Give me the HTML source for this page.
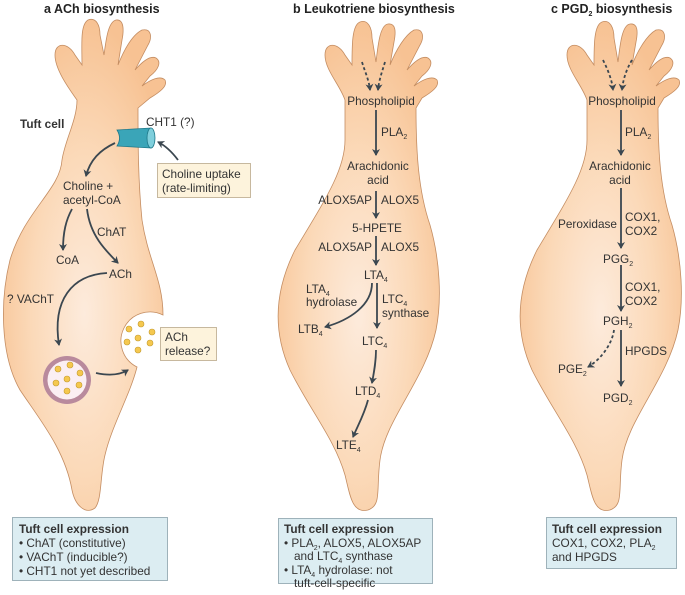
<!DOCTYPE html>
<html><head><meta charset="utf-8"><style>
html,body{margin:0;padding:0;background:#fff;}
svg{display:block;font-family:"Liberation Sans",sans-serif;}
text{font-size:11.8px;fill:#333;}
.t{font-weight:bold;font-size:12.5px;fill:#222;}
.s{font-size:7px;}
.m{text-anchor:middle;}
.e{text-anchor:end;}
</style></head><body>
<svg width="685" height="595" viewBox="0 0 685 595" xmlns="http://www.w3.org/2000/svg">
<defs>
<radialGradient id="g" cx="0.5" cy="0.6" r="0.6">
<stop offset="0" stop-color="#fdebdc"/><stop offset="0.55" stop-color="#fbd9b8"/><stop offset="1" stop-color="#f7c293"/>
</radialGradient>
<marker id="a" markerWidth="8" markerHeight="8" refX="6" refY="4" orient="auto" markerUnits="userSpaceOnUse">
<path d="M0,0 L7,4 L0,8 L2,4 Z" fill="#3b4750"/></marker>
</defs>
<!-- Cell a -->
<path fill="url(#g)" stroke="#c48d62" stroke-width="0.8" d="M 77,100 C 70,90 55,70 55,55 C 55,42 68,42 75,55 L 82,65 C 82,45 80,25 88,20 C 96,17 100,25 100,35 L 104,55 C 106,40 108,22 116,20 C 124,19 124,30 122,40 L 118,65 C 124,50 132,35 142,30 C 152,28 152,38 148,45 L 135,70 C 142,62 150,55 156,58 C 162,62 158,70 150,76 L 142,86 C 150,80 160,75 165,80 C 168,86 160,92 150,98 L 138,108 C 138,140 138,180 142,220 C 148,260 163,280 163,315 A 27 27 0 1 0 137,367 C 130,395 112,425 105,455 C 100,475 102,500 95,508 C 85,515 75,505 72,490 C 65,450 40,420 20,390 C 0,355 0,300 10,260 C 25,210 60,190 62,160 C 65,140 77,120 77,100 Z"/>
<!-- Cell b -->
<path fill="url(#g)" stroke="#c48d62" stroke-width="0.8" d="M 345,100 C 340,85 325,70 325,55 C 325,42 338,42 345,55 L 352,65 C 352,45 352,25 360,22 C 368,19 372,28 372,38 L 376,62 C 378,45 380,25 388,24 C 396,23 396,32 394,42 L 390,65 C 396,50 405,35 414,30 C 424,28 424,38 420,45 L 407,70 C 414,62 422,55 428,58 C 434,62 430,70 422,76 L 414,86 C 422,80 432,75 437,80 C 440,86 432,92 422,98 L 416,108 C 416,150 418,190 430,225 C 440,260 442,300 436,330 C 425,380 385,420 380,460 C 376,490 382,505 368,510 C 352,514 350,495 345,475 C 335,440 310,410 290,370 C 272,330 275,290 295,250 C 325,200 345,170 345,140 Z"/>
<!-- Cell c -->
<path transform="translate(242,0)" fill="url(#g)" stroke="#c48d62" stroke-width="0.8" d="M 345,100 C 340,85 325,70 325,55 C 325,42 338,42 345,55 L 352,65 C 352,45 352,25 360,22 C 368,19 372,28 372,38 L 376,62 C 378,45 380,25 388,24 C 396,23 396,32 394,42 L 390,65 C 396,50 405,35 414,30 C 424,28 424,38 420,45 L 407,70 C 414,62 422,55 428,58 C 434,62 430,70 422,76 L 414,86 C 422,80 432,75 437,80 C 440,86 432,92 422,98 L 416,108 C 416,150 418,190 430,225 C 440,260 442,300 436,330 C 425,380 385,420 380,460 C 376,490 382,505 368,510 C 352,514 350,495 345,475 C 335,440 310,410 290,370 C 272,330 275,290 295,250 C 325,200 345,170 345,140 Z"/>

<!-- Titles -->
<text x="44" y="13" class="t">a  ACh biosynthesis</text>
<text x="293" y="13" class="t">b  Leukotriene biosynthesis</text>
<text x="551" y="13" class="t">c  PGD<tspan class="s" dy="3">2</tspan><tspan dy="-3"> biosynthesis</tspan></text>

<!-- Panel a content -->
<text x="20" y="128" style="font-weight:bold">Tuft cell</text>
<text x="146" y="126">CHT1 (?)</text>
<path d="M117,130 L151,128 L151,148 L117,146 Q122,138 117,130 Z" fill="#3aa5b8" stroke="#1d7788" stroke-width="0.8"/>
<ellipse cx="151" cy="138" rx="4" ry="10" fill="#7fcfdc" stroke="#1d7788" stroke-width="0.8"/>
<rect x="157.5" y="163.5" width="93" height="34" fill="#fdf3dc" stroke="#b9a88a" stroke-width="0.8"/>
<text x="162" y="178">Choline uptake</text>
<text x="162" y="192">(rate-limiting)</text>
<g stroke="#3b4750" fill="none" stroke-width="1.8">
<path d="M178,160 C172,152 166,146 158,142" marker-end="url(#a)"/>
<path d="M115,143 C100,150 90,160 86,176" marker-end="url(#a)"/>
<path d="M72,209 C66,220 63,232 63,250" marker-end="url(#a)"/>
<path d="M87,209 C90,235 105,250 118,263" marker-end="url(#a)"/>
<path d="M107,273 C72,275 52,300 59,345" marker-end="url(#a)"/>
<path d="M96,373 C110,376 120,375 128,370" marker-end="url(#a)"/>
</g>
<text x="63" y="190">Choline +</text>
<text x="63" y="204">acetyl-CoA</text>
<text x="97" y="236">ChAT</text>
<text x="56" y="264">CoA</text>
<text x="109" y="278">ACh</text>
<text x="7" y="303">? VAChT</text>
<circle cx="67" cy="380" r="24" fill="#b98a9d"/>
<circle cx="67" cy="380" r="19.5" fill="#fbeff3"/>
<g fill="#f5c84f" stroke="#c49a2c" stroke-width="0.6">
<circle cx="58" cy="369" r="3"/><circle cx="70" cy="365" r="3"/><circle cx="80" cy="373" r="3"/>
<circle cx="56" cy="383" r="3"/><circle cx="67" cy="379" r="3"/><circle cx="79" cy="385" r="3"/><circle cx="67" cy="391" r="3"/>
<circle cx="129" cy="329" r="3"/><circle cx="141" cy="324" r="3"/><circle cx="152" cy="332" r="3"/>
<circle cx="127" cy="342" r="3"/><circle cx="138" cy="338" r="3"/><circle cx="150" cy="343" r="3"/><circle cx="138" cy="350" r="3"/>
</g>
<rect x="160.5" y="327.5" width="56" height="33" fill="#fdf3dc" stroke="#b9a88a" stroke-width="0.8"/>
<text x="165" y="341">ACh</text>
<text x="165" y="355">release?</text>

<rect x="12.5" y="517.5" width="155" height="63" fill="#dcedf2" stroke="#8aa1aa" stroke-width="0.8"/>
<text x="19" y="533" style="font-weight:bold">Tuft cell expression</text>
<text x="19" y="547">• ChAT (constitutive)</text>
<text x="19" y="561">• VAChT (inducible?)</text>
<text x="19" y="575">• CHT1 not yet described</text>

<!-- Panel b content -->
<g stroke="#3b4750" fill="none" stroke-width="1.8">
<path d="M362,62 C365,72 369,80 370,90" stroke-dasharray="3,2.5" marker-end="url(#a)"/>
<path d="M385,62 C382,72 379,80 378,90" stroke-dasharray="3,2.5" marker-end="url(#a)"/>
<path d="M376,110 L376,155" marker-end="url(#a)"/>
<path d="M376,191 L376,218" marker-end="url(#a)"/>
<path d="M376,236 L376,265" marker-end="url(#a)"/>
<path d="M372,283 C372,305 350,320 325,327" marker-end="url(#a)"/>
<path d="M377,283 L377,328" marker-end="url(#a)"/>
<path d="M376,350 C376,362 374,372 372,383" marker-end="url(#a)"/>
<path d="M368,400 C364,415 358,425 353,437" marker-end="url(#a)"/>
</g>
<text x="381" y="105" class="m">Phospholipid</text>
<text x="381" y="136">PLA<tspan class="s" dy="3">2</tspan></text>
<text x="378" y="170" class="m">Arachidonic</text>
<text x="378" y="184" class="m">acid</text>
<text x="372" y="204" class="e">ALOX5AP</text><text x="381" y="204">ALOX5</text>
<text x="377" y="232" class="m">5-HPETE</text>
<text x="372" y="251" class="e">ALOX5AP</text><text x="381" y="251">ALOX5</text>
<text x="364" y="279">LTA<tspan class="s" dy="3">4</tspan></text>
<text x="306" y="293">LTA<tspan class="s" dy="3">4</tspan></text>
<text x="306" y="306">hydrolase</text>
<text x="382" y="303">LTC<tspan class="s" dy="3">4</tspan></text>
<text x="382" y="317">synthase</text>
<text x="298" y="333">LTB<tspan class="s" dy="3">4</tspan></text>
<text x="362" y="345">LTC<tspan class="s" dy="3">4</tspan></text>
<text x="355" y="395">LTD<tspan class="s" dy="3">4</tspan></text>
<text x="336" y="449">LTE<tspan class="s" dy="3">4</tspan></text>
<rect x="278.5" y="518.5" width="154" height="65" fill="#dcedf2" stroke="#8aa1aa" stroke-width="0.8"/>
<text x="284" y="533" style="font-weight:bold">Tuft cell expression</text>
<text x="284" y="547">• PLA<tspan class="s" dy="3">2</tspan><tspan dy="-3">, ALOX5, ALOX5AP</tspan></text>
<text x="294" y="560">and LTC<tspan class="s" dy="3">4</tspan><tspan dy="-3"> synthase</tspan></text>
<text x="284" y="574">• LTA<tspan class="s" dy="3">4</tspan><tspan dy="-3"> hydrolase: not</tspan></text>
<text x="294" y="587">tuft-cell-specific</text>

<!-- Panel c content -->
<g stroke="#3b4750" fill="none" stroke-width="1.8">
<path d="M603,60 C608,70 612,80 613,90" stroke-dasharray="3,2.5" marker-end="url(#a)"/>
<path d="M632,60 C626,70 623,80 622,90" stroke-dasharray="3,2.5" marker-end="url(#a)"/>
<path d="M621,110 L621,155" marker-end="url(#a)"/>
<path d="M621,188 L621,248" marker-end="url(#a)"/>
<path d="M621,265 L621,311" marker-end="url(#a)"/>
<path d="M614,330 C612,345 600,360 588,367" stroke-dasharray="3,2.5" marker-end="url(#a)"/>
<path d="M621,330 L621,386" marker-end="url(#a)"/>
</g>
<text x="622" y="105" class="m">Phospholipid</text>
<text x="625" y="136">PLA<tspan class="s" dy="3">2</tspan></text>
<text x="620" y="170" class="m">Arachidonic</text>
<text x="620" y="184" class="m">acid</text>
<text x="617" y="228" class="e">Peroxidase</text>
<text x="625" y="221">COX1,</text>
<text x="625" y="235">COX2</text>
<text x="603" y="263">PGG<tspan class="s" dy="3">2</tspan></text>
<text x="625" y="291">COX1,</text>
<text x="625" y="305">COX2</text>
<text x="603" y="325">PGH<tspan class="s" dy="3">2</tspan></text>
<text x="625" y="355">HPGDS</text>
<text x="558" y="373">PGE<tspan class="s" dy="3">2</tspan></text>
<text x="603" y="402">PGD<tspan class="s" dy="3">2</tspan></text>
<rect x="546.5" y="517.5" width="130" height="51" fill="#dcedf2" stroke="#8aa1aa" stroke-width="0.8"/>
<text x="552" y="533" style="font-weight:bold">Tuft cell expression</text>
<text x="552" y="547">COX1, COX2, PLA<tspan class="s" dy="3">2</tspan></text>
<text x="552" y="561">and HPGDS</text>
</svg>
</body></html>
